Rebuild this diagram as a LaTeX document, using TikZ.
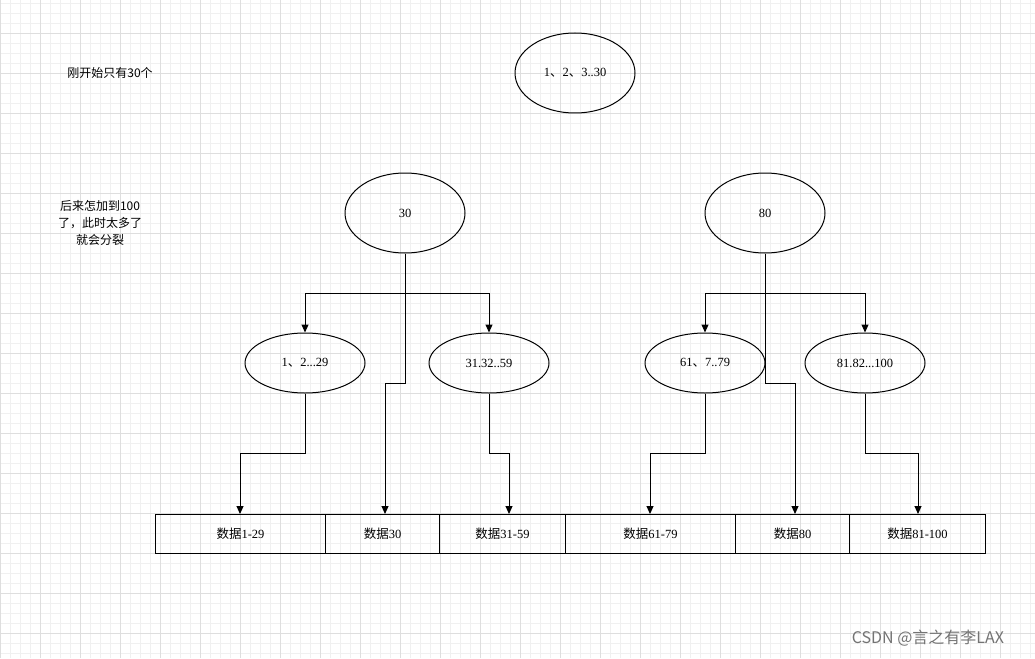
\documentclass[tikz,border=0pt]{standalone}
\usepackage{fontspec}
\setmainfont{Liberation Serif}
\newfontfamily\cjk{Noto Sans CJK SC}
\usetikzlibrary{shapes.geometric,arrows.meta}
\begin{document}
\begin{tikzpicture}[x=1pt,y=-1pt,
  ell/.style={draw,ellipse,line width=1pt,inner sep=0pt,font=\fontsize{12.5}{14}\selectfont},
  cell/.style={draw,line width=1pt,minimum height=39pt,inner sep=0pt,anchor=north west,font=\fontsize{12.5}{14}\selectfont},
  conn/.style={line width=1pt,-{Triangle[length=8pt,width=7pt]}},
  plain/.style={line width=1pt},
  note/.style={font=\cjk\fontsize{12}{17}\selectfont,align=center}]
\useasboundingbox (0,0) rectangle (1035,658);
\fill[white] (0,0) rectangle (1035,658);
\foreach \i in {0,...,103} {\draw[black!6,line width=0.4pt] (\i*10,0) -- (\i*10,658);}
\foreach \i in {0,...,65} {\draw[black!6,line width=0.4pt] (0,\i*10+3) -- (1035,\i*10+3);}
\foreach \i in {0,...,25} {\draw[black!13,line width=0.6pt] (\i*40,0) -- (\i*40,658);}
\foreach \i in {0,...,16} {\draw[black!13,line width=0.6pt] (0,\i*40+33) -- (1035,\i*40+33);}
\node[note] (t1) at (110,73) {刚开始只有30个};
\node[note] (t2) at (100,223) {后来怎加到100\\了，此时太多了\\就会分裂};
\node[ell,minimum width=120pt,minimum height=80pt] (top) at (575,73) {1{\cjk 、}2{\cjk 、}3..30};
\node[ell,minimum width=120pt,minimum height=80pt] (a) at (405,213) {30};
\node[ell,minimum width=120pt,minimum height=80pt] (b) at (765,213) {80};
\node[ell,minimum width=120pt,minimum height=60pt] (a1) at (305,363) {1{\cjk 、}2...29};
\node[ell,minimum width=120pt,minimum height=60pt] (a2) at (489,363) {31.32..59};
\node[ell,minimum width=120pt,minimum height=60pt] (b1) at (705,363) {61{\cjk 、}7..79};
\node[ell,minimum width=120pt,minimum height=60pt] (b2) at (865,363) {81.82...100};
\node[cell,minimum width=170pt] (d1) at (155,514) {{\cjk 数据}1-29};
\node[cell,minimum width=114pt] (d2) at (325,514) {{\cjk 数据}30};
\node[cell,minimum width=126pt] (d3) at (439,514) {{\cjk 数据}31-59};
\node[cell,minimum width=170pt] (d4) at (565,514) {{\cjk 数据}61-79};
\node[cell,minimum width=114pt] (d5) at (735,514) {{\cjk 数据}80};
\node[cell,minimum width=136pt] (d6) at (849,514) {{\cjk 数据}81-100};
\node[font=\fontsize{16}{18}\selectfont\cjk,text=black!55] (wm) at (928,638) {CSDN @言之有李LAX};
% tree 30
\coordinate (ja) at (405,293);
\draw[plain] (a.south) -- (ja);
\draw[conn] (ja) -| (a1.north);
\draw[conn] (ja) -| (a2.north);
\draw[conn] (ja) -- (405,383) -- (385,383) -- (d2.north -| 385,0);
\draw[conn] (a1.south) -- (305,453) -- (240,453) -- (d1.north -| 240,0);
\draw[conn] (a2.south) -- (489,453) -- (509,453) -- (d3.north -| 509,0);
% tree 80
\coordinate (jb) at (765,293);
\draw[plain] (b.south) -- (jb);
\draw[conn] (jb) -| (b1.north);
\draw[conn] (jb) -| (b2.north);
\draw[conn] (jb) -- (765,383) -- (795,383) -- (d5.north -| 795,0);
\draw[conn] (b1.south) -- (705,453) -- (650,453) -- (d4.north -| 650,0);
\draw[conn] (b2.south) -- (865,453) -- (918,453) -- (d6.north -| 918,0);
\end{tikzpicture}
\end{document}
